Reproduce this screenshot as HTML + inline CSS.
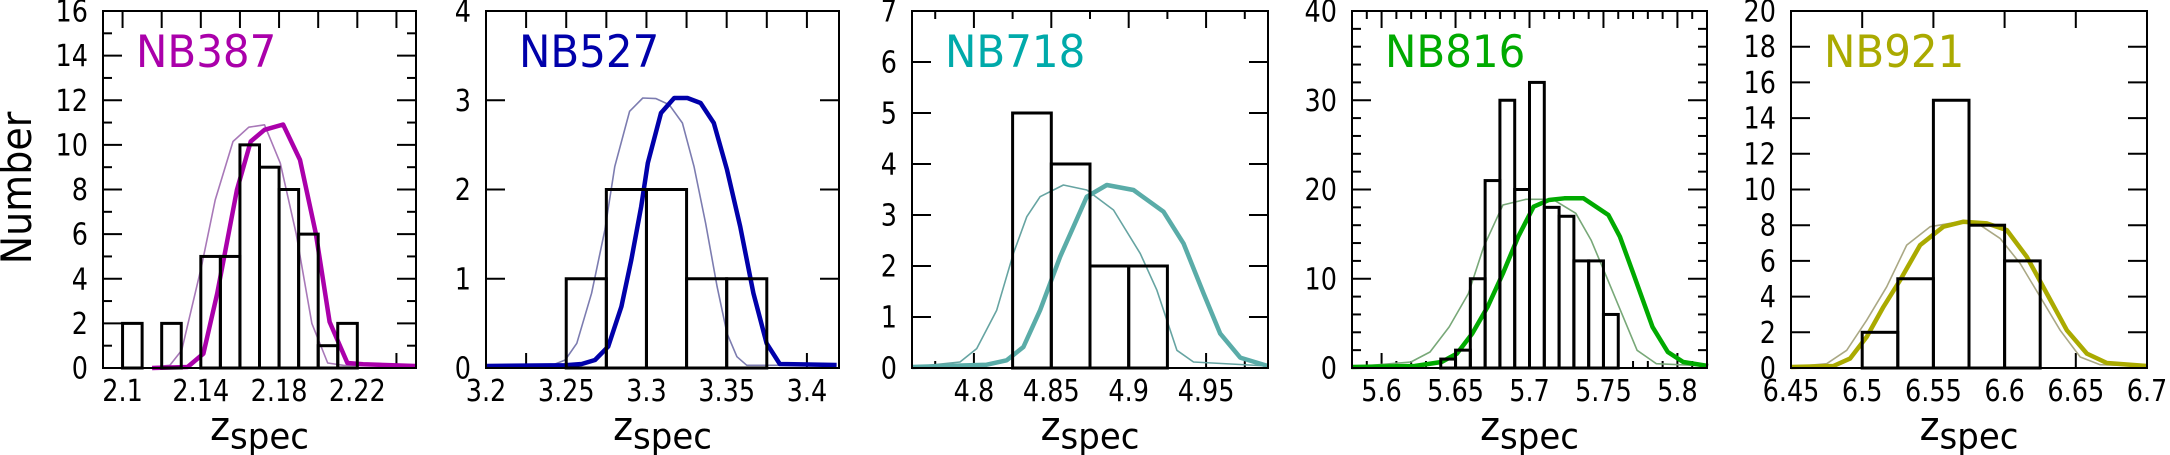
<!DOCTYPE html>
<html><head><meta charset="utf-8"><style>
html,body{margin:0;padding:0;background:#fff;}
svg{display:block;}
text{font-family:"DejaVu Sans","Liberation Sans",sans-serif;}
</style></head><body>
<svg id="s" width="2170" height="455" viewBox="0 0 2170 455" xmlns="http://www.w3.org/2000/svg">
<text transform="translate(31,188) rotate(-90) scale(1,1.1)" text-anchor="middle" font-size="38">Number</text>
</svg>
<script>
var NS="http://www.w3.org/2000/svg",S=document.getElementById("s");
function el(t,a,txt){var e=document.createElementNS(NS,t);for(var k in a)e.setAttribute(k,a[k]);if(txt!=null)e.textContent=txt;S.appendChild(e);return e;}
function lbl(x,y,anchor,txt){el("text",{transform:"translate("+x+","+y+") scale(1,1.17)","text-anchor":anchor,"font-size":25.5},txt);}
var T=11,B=368;
var P=[
{L:103,R:416,x0:2.09,x1:2.25,ymax:16,ymaj:2,ymin:1,lab:[2.1,2.14,2.18,2.22],labt:["2.1","2.14","2.18","2.22"],xt:0.02,xtm:0.02,
 name:"NB387",col:"#aa00aa",tcol:"#a878b8",
 bars:[[2.10,2.11,2],[2.12,2.13,2],[2.14,2.15,5],[2.15,2.16,5],[2.16,2.17,10],[2.17,2.18,9],[2.18,2.19,8],[2.19,2.20,6],[2.20,2.21,1],[2.21,2.22,2]]},
{L:486,R:839,x0:3.2,x1:3.42,ymax:4,ymaj:1,ymin:1,lab:[3.2,3.25,3.3,3.35,3.4],labt:["3.2","3.25","3.3","3.35","3.4"],xt:0.025,xtm:0.025,
 name:"NB527",col:"#0000aa",tcol:"#7c7cb0",
 bars:[[3.25,3.275,1],[3.275,3.3,2],[3.3,3.325,2],[3.325,3.35,1],[3.35,3.375,1]]},
{L:912,R:1268,x0:4.76,x1:4.99,ymax:7,ymaj:1,ymin:1,lab:[4.8,4.85,4.9,4.95],labt:["4.8","4.85","4.9","4.95"],xt:0.05,xtm:0.025,
 name:"NB718",col:"#5aaca8",ncol:"#00aaaa",tcol:"#66a4a2",
 bars:[[4.825,4.85,5],[4.85,4.875,4],[4.875,4.9,2],[4.9,4.925,2]]},
{L:1352,R:1707,x0:5.58,x1:5.82,ymax:40,ymaj:10,ymin:2,lab:[5.6,5.65,5.7,5.75,5.8],labt:["5.6","5.65","5.7","5.75","5.8"],xt:0.05,xtm:0.01,
 name:"NB816",col:"#00aa00",tcol:"#78a878",bars:[]},
{L:1791,R:2147,x0:6.45,x1:6.70,ymax:20,ymaj:2,ymin:2,lab:[6.45,6.5,6.55,6.6,6.65,6.7],labt:["6.45","6.5","6.55","6.6","6.65","6.7"],xt:0.05,xtm:0.05,
 name:"NB921",col:"#aaaa00",tcol:"#aaa884",
 bars:[[6.5,6.525,2],[6.525,6.55,5],[6.55,6.575,15],[6.575,6.6,8],[6.6,6.625,6]]}
];
var c4=[1,2,10,21,30,20,32,18,17,12,12,6];
for(var i=0;i<12;i++)P[3].bars.push([5.64+i*0.01,5.65+i*0.01,c4[i]]);
function cv(pts,fx,fy){return pts.map(function(p){return [fx(p[0]),fy(p[1])];});}
var f1x=function(p){return 2.1+(p-310)/4960;},f1y=function(p){return (1103-p)/66.8;};
P[0].thick=cv([[385,1103],[475,1100],[515,1060],[550,880],[600,570],[635,425],[670,390],[717,374],[760,480],[800,700],[835,965],[880,1088],[920,1092],[1052,1097]],f1x,f1y);
P[0].thin=cv([[385,1100],[430,1095],[460,1050],[510,800],[545,600],[590,425],[630,382],[670,375],[710,490],[750,700],[790,970],[830,1088],[870,1095],[1052,1097]],f1x,f1y);
var f2x=function(p){return 3.2+p/4860;},f2y=function(p){return (864-p)/267.4;};
P[1].thick=cv([[0,858],[240,856],[290,852],[330,840],[370,800],[410,680],[440,540],[470,380],[490,250],[530,100],[570,55],[610,55],[650,70],[690,130],[730,270],[770,440],[810,640],[850,790],[890,852],[1062,855]],f2x,f2y);
P[1].thin=cv([[0,858],[200,856],[240,840],[275,790],[320,640],[360,450],[390,260],[435,95],[475,55],[515,57],[555,75],[595,130],[630,260],[665,430],[700,620],[730,760],[760,830],[790,856],[1062,856]],f2x,f2y);
var f3x=function(p){return 4.76+(p-276)/4640;},f3y=function(p){return (1103-p)/152.7;};
P[2].thick=cv([[276,1100],[500,1093],[560,1080],[610,1040],[660,930],[720,770],[800,590],[860,555],[940,570],[1030,635],[1090,730],[1150,880],[1200,1000],[1260,1072],[1343,1097]],f3x,f3y);
P[2].thin=cv([[276,1100],[420,1085],[470,1045],[530,930],[580,760],[620,650],[660,590],[730,555],[800,570],[880,630],[960,760],[1010,870],[1070,1050],[1120,1085],[1343,1097]],f3x,f3y);
var f4x=function(p){return 5.58+(p/2.613+1250-1352)/1476;},f4y=function(p){return (1103-p)/26.72;};
P[3].thick=cv([[265,1100],[430,1097],[500,1085],[540,1060],[580,1000],[620,920],[660,820],[700,710],[740,620],[780,600],[820,595],[870,595],[935,645],[965,710],[1000,820],[1050,980],[1090,1055],[1130,1085],[1195,1097]],f4x,f4y);
P[3].thin=cv([[265,1100],[420,1085],[470,1055],[520,980],[570,880],[610,740],[660,615],[720,598],[790,598],[850,640],[890,720],[930,830],[970,940],[1010,1050],[1060,1090],[1195,1097]],f4x,f4y);
var f5x=function(p){return 6.45+(p-153)/4269;},f5y=function(p){return (1103-p)/53.45;};
P[4].thick=cv([[153,1100],[280,1097],[330,1075],[380,1010],[430,920],[480,840],[540,735],[610,680],[670,665],[740,670],[800,690],[860,770],[920,880],[980,990],[1040,1060],[1100,1088],[1220,1097]],f5x,f5y);
P[4].thin=cv([[153,1100],[260,1090],[320,1050],[380,960],[440,860],[500,735],[570,680],[660,665],[720,675],[780,715],[840,790],[900,890],[960,990],[1020,1070],[1080,1093],[1220,1097]],f5x,f5y);

P.forEach(function(p){
 var X=function(v){return p.L+(v-p.x0)/(p.x1-p.x0)*(p.R-p.L);};
 var Y=function(v){return B-v/p.ymax*(B-T);};
 for(var v=0;v<=p.ymax+1e-9;v+=p.ymin){
  var maj=Math.abs(v/p.ymaj-Math.round(v/p.ymaj))<1e-6, len=maj?19:9, y=Y(v);
  el("line",{x1:p.L,y1:y,x2:p.L+len,y2:y,stroke:"#000","stroke-width":2});
  el("line",{x1:p.R,y1:y,x2:p.R-len,y2:y,stroke:"#000","stroke-width":2});
 }
 for(var v=0;v<=p.ymax+1e-9;v+=p.ymaj){ lbl(p.L-15,Y(v)+10.5,"end",String(Math.round(v))); }
 var k0=Math.ceil((p.x0-1e-9)/p.xtm), k1=Math.floor((p.x1+1e-9)/p.xtm);
 for(var k=k0;k<=k1;k++){
  var v=k*p.xtm, r=v/p.xt, maj=Math.abs(r-Math.round(r))<1e-6, x=X(v);
  if(x<=p.L+1||x>=p.R-1)continue;
  var lt=maj?17:8, lb=maj?15:7;
  el("line",{x1:x,y1:T,x2:x,y2:T+lt,stroke:"#000","stroke-width":2});
  el("line",{x1:x,y1:B,x2:x,y2:B-lb,stroke:"#000","stroke-width":2});
 }
 p.lab.forEach(function(v,i){lbl(X(v),401,"middle",p.labt[i]);});
 var pts=function(a){return a.map(function(q){return X(q[0]).toFixed(1)+","+Y(Math.max(0,q[1])).toFixed(1);}).join(" ");};
 el("polyline",{points:pts(p.thin),fill:"none",stroke:p.tcol,"stroke-width":1.6,"stroke-linejoin":"round"});
 el("polyline",{points:pts(p.thick),fill:"none",stroke:p.col,"stroke-width":4.5,"stroke-linejoin":"round"});
 p.bars.forEach(function(b){
  el("rect",{x:X(b[0]),y:Y(b[2]),width:X(b[1])-X(b[0]),height:B-Y(b[2]),fill:"none",stroke:"#000","stroke-width":3});
 });
 el("rect",{x:p.L,y:T,width:p.R-p.L,height:B-T,fill:"none",stroke:"#000","stroke-width":2});
 el("text",{transform:"translate("+(p.L+33)+",67) scale(1,1.05)","font-size":42,fill:p.ncol||p.col},p.name);
 var cx=(p.L+p.R)/2;
 var t=el("text",{transform:"translate("+cx+",440) scale(1,1.05)","text-anchor":"middle","font-size":38});
 var a=document.createElementNS(NS,"tspan");a.textContent="z";t.appendChild(a);
 var b2=document.createElementNS(NS,"tspan");b2.setAttribute("font-size","34");b2.setAttribute("dy","8");b2.textContent="spec";t.appendChild(b2);
});
</script>
</body></html>
